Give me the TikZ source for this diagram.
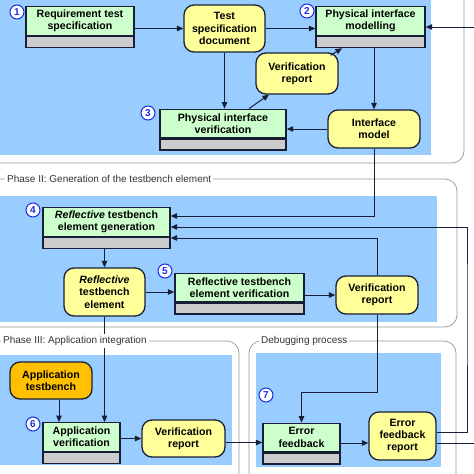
\documentclass[tikz,border=0pt]{standalone}
\usepackage{fontspec}
\setmainfont{Liberation Sans}
\usetikzlibrary{arrows.meta}
\definecolor{bgblue}{RGB}{153,204,255}
\definecolor{procgreen}{RGB}{204,255,204}
\definecolor{stripgray}{RGB}{204,204,204}
\definecolor{docyellow}{RGB}{255,255,153}
\definecolor{tborange}{RGB}{255,192,0}
\definecolor{edge}{RGB}{25,30,55}
\definecolor{framegray}{RGB}{150,150,150}
\definecolor{numblue}{RGB}{25,45,230}
\tikzset{
  proc/.style={draw=edge, line width=1.3pt, fill=procgreen, minimum height=28.5pt, align=center, inner sep=1pt, font=\bfseries\fontsize{10.6}{12.3}\selectfont},
  strip/.style={draw=edge, line width=1.3pt, fill=stripgray, minimum height=11pt, inner sep=0pt},
  doc/.style={draw=edge, line width=1.3pt, fill=docyellow, rounded corners=10pt, align=center, inner sep=1pt, font=\bfseries\fontsize{10.6}{12.3}\selectfont},
  num/.style={circle, draw=numblue, fill=white, line width=1pt, minimum size=14pt, inner sep=0pt, text=numblue, font=\bfseries\fontsize{10}{10}\selectfont},
  frame/.style={draw=framegray, line width=0.7pt, fill=white, rounded corners=12pt},
  phase/.style={fill=white, inner sep=2pt, anchor=west, text=black!80, font=\fontsize{10}{12}\selectfont},
  arr/.style={draw=edge, line width=1pt, -{Triangle[length=6.5pt,width=5.5pt]}},
  wire/.style={draw=edge, line width=1pt},
}
% process box: green part with the gray strip under it
\newcommand\procbox[4]{%
  \node[proc, minimum width=#3pt] (#1) at (#2) {#4};
  \node[strip, minimum width=#3pt, anchor=north] (#1s) at (#1.south) {};
}

\begin{document}
\begin{tikzpicture}[x=1pt, y=-1pt]
		%%%%% START %%%%%
		\useasboundingbox (0,0) rectangle (474,474);
		
		% frames and blue areas
		\draw[frame] (-15,-20) rectangle (464,163);
		\fill[bgblue] (-5,-5) rectangle (431,155);
		\draw[frame] (-15,179) rectangle (457,327);
		\fill[bgblue] (-5,196) rectangle (437,322);
		\draw[frame] (-15,341) rectangle (239,490);
		\fill[bgblue] (-5,355) rectangle (232,465);
		\draw[frame] (249,341) rectangle (456,490);
		\fill[bgblue] (256,353) rectangle (441,467);
		
		% Phase I
		\procbox{reqspec}{80,21}{108}{Requirement test\\specification}
		\node[doc, minimum width=81pt, minimum height=47pt] (testdoc) at (224.5,28.5) {Test\\specification\\document};
		\procbox{physmod}{370.5,21}{109}{Physical interface\\modelling}
		\node[doc, minimum width=82pt, minimum height=41pt] (verrepA) at (297,73.5) {Verification\\report};
		\procbox{physver}{223,123.5}{126}{Physical interface\\verification}
		\node[doc, minimum width=92pt, minimum height=38pt] (ifmodel) at (374,129) {Interface\\model};
		
		% Phase II
		\procbox{refgen}{106.5,222}{127}{\textit{Reflective} testbench\\element generation}
		\node[doc, minimum width=81pt, minimum height=48pt] (refelem) at (104.5,292) {\textit{Reflective}\\testbench\\element};
		\procbox{refver}{239.5,287.5}{129}{Reflective testbench\\element verification}
		\node[doc, minimum width=82pt, minimum height=38pt] (verrepB) at (377,295) {Verification\\report};
		
		% Phase III
		\node[doc, fill=tborange, minimum width=82pt, minimum height=37pt] (apptb) at (51,380.5) {Application\\testbench};
		\procbox{appver}{81.5,437}{77}{Application\\verification}
		\node[doc, minimum width=83pt, minimum height=37pt] (verrepC) at (183.5,438.5) {Verification\\report};
		
		% Debugging process
		\procbox{errfb}{301.5,437.5}{77}{Error\\feedback}
		\node[doc, minimum width=67pt, minimum height=48pt] (errrep) at (402.5,436) {Error\\feedback\\report};
		
		% step numbers
		\node[num] (n1) at (17,12) {1};
		\node[num] (n2) at (307,11) {2};
		\node[num] (n3) at (148,113) {3};
		\node[num] (n4) at (33,210) {4};
		\node[num] (n5) at (165,271) {5};
		\node[num] (n6) at (33,424) {6};
		\node[num] (n7) at (266,395) {7};
		
		% free ends and bends
		\coordinate (inright) at (474,27);
		\coordinate (outright) at (474,443);
		\coordinate (backx) at (467,300);
		\coordinate (dbgbend) at (377,392);
		\coordinate (vrCout) at ([yshift=-4pt]verrepC.east);
		\coordinate (errin) at ([yshift=-7pt]errrep.west);
		
		% connectors, phase I
		\draw[arr] (reqspec.east |- testdoc.west) -- (testdoc.west);
		\draw[arr] (testdoc.east) -- (physmod.west |- testdoc.east);
		\draw[arr] (testdoc.south) -- (testdoc.south |- physver.north);
		\draw[arr] ([xshift=26pt]physver.north) -- ([xshift=-28pt]verrepA.south);
		\draw[arr] ([xshift=-8pt,yshift=-3pt]verrepA.north east) -- ([xshift=-28.5pt]physmods.south);
		\draw[arr] (ifmodel.north |- physmods.south) -- (ifmodel.north);
		\draw[arr] (ifmodel.west) -- (physver.east |- ifmodel.west);
		\draw[arr] (inright) -- (physmod.east |- inright);
		
		% connectors, phase II
		\draw[arr] (ifmodel.south) |- ([yshift=6pt]refgen.east);
		\draw[arr] ([yshift=4pt]errrep.east) -| (backx) |- ([yshift=-5pt]refgen.east);
		\draw[arr] (verrepB.north) |- ([yshift=-16pt]refgen.east);
		\draw[arr] (refelem.north |- refgens.south) -- (refelem.north);
		\draw[arr] (refelem.east) -- (refver.west |- refelem.east);
		\draw[arr] (refver.east |- verrepB.west) -- (verrepB.west);
		\draw[arr] (verrepB.south) -- (dbgbend) -| (errfb.north);
		\draw[arr] (refelem.south) -- (refelem.south |- appver.north);
		
		% connectors, phase III and debugging
		\draw[arr] ([xshift=8pt]apptb.south) -- ([xshift=8pt]apptb.south |- appver.north);
		\draw[arr] (appver.east |- verrepC.west) -- (verrepC.west);
		\draw[arr] (vrCout) -- (errfb.west |- vrCout);
		\draw[arr] (errfb.east |- errin) -- (errin);
		\draw[wire] ([yshift=-7pt]errrep.east) -- (outright);
		
		% frame titles
		\node[phase] (titleB) at (5,179) {Phase II: Generation of the testbench element};
		\node[phase] (titleC) at (1,341) {Phase III: Application integration};
		\node[phase] (titleD) at (259,341) {Debugging process};
		
		%%%%% END %%%%%
	\end{tikzpicture}
\end{document}
